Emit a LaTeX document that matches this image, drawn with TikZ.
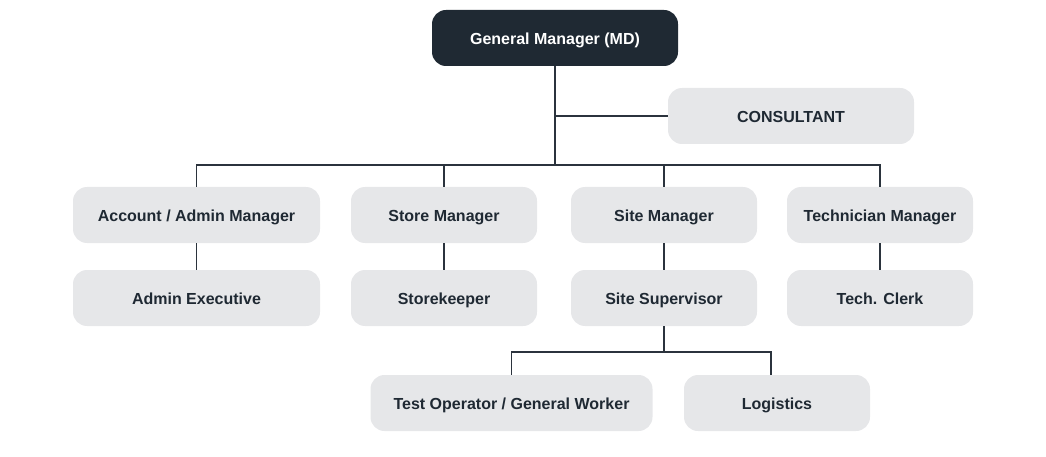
\documentclass[tikz,border=0pt]{standalone}
\usepackage{fontspec}
\setmainfont{Liberation Sans}
\usetikzlibrary{positioning,calc}
\definecolor{darkbox}{HTML}{1F2933}
\definecolor{lightbox}{HTML}{E6E7E9}
\definecolor{linkcol}{HTML}{2B333D}
\tikzset{
  box/.style={rounded corners=14pt, align=center, minimum height=56pt, inner sep=0pt, text height=14pt, text depth=0.5pt, font=\fontsize{16}{19}\selectfont\bfseries},
  topbox/.style={box, fill=darkbox, text=white, minimum width=246pt},
  rolebox/.style={box, fill=lightbox, text=darkbox, minimum width=186pt},
  link/.style={draw=linkcol, line width=1.6pt}
}
\begin{document}
\begin{tikzpicture}[x=1pt, y=-1pt]
  \useasboundingbox (0,0) rectangle (1046,457);
  \node[topbox] (gm) at (555,38) {General Manager (MD)};
  \node[rolebox, minimum width=246pt] (cons) at (791,116) {CONSULTANT};

  \node[rolebox, minimum width=247pt] (acc) at (196.5,215) {Account / Admin Manager};
  \node[rolebox] (store) at (444,215) {Store Manager};
  \node[rolebox] (site) at (664,215) {Site Manager};
  \node[rolebox] (tech) at (880,215) {Technician Manager};

  \node[rolebox, minimum width=247pt] (adminexe) at (196.5,298) {Admin Executive};
  \node[rolebox] (keeper) at (444,298) {Storekeeper};
  \node[rolebox] (sitesup) at (664,298) {Site Supervisor};
  \node[rolebox] (techclerk) at (880,298) {Tech. Clerk};

  \node[rolebox, minimum width=282pt] (testop) at (511.5,403) {Test Operator / General Worker};
  \node[rolebox] (logist) at (777,403) {Logistics};

  \coordinate (bus) at (555,165);
  \coordinate (subbus) at (664,352);

  % general manager to consultant and department heads
  \draw[link] (gm.south) -- (bus);
  \draw[link] (gm.south |- cons.west) -- (cons.west);
  \draw[link] (acc.north) -- (acc.north |- bus) -- (tech.north |- bus) -- (tech.north);
  \foreach \n in {store,site}
    \draw[link] (\n.north) -- (\n.north |- bus);

  % heads to their staff
  \foreach \a/\b in {acc/adminexe,store/keeper,site/sitesup,tech/techclerk}
    \draw[link] (\a) -- (\b);

  % site supervisor to site staff
  \draw[link] (sitesup.south) -- (subbus);
  \draw[link] (testop.north) -- (testop.north |- subbus) -- ([xshift=-6pt]logist.north |- subbus) -- ([xshift=-6pt]logist.north);
\end{tikzpicture}
\end{document}
